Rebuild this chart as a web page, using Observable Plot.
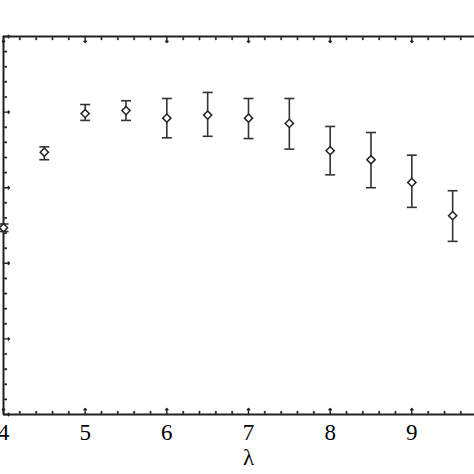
<!DOCTYPE html>
<html>
<head>
<meta charset="utf-8">
<script src="https://cdn.jsdelivr.net/npm/d3@7"></script>
<script src="https://cdn.jsdelivr.net/npm/@observablehq/plot@0.6"></script>
<style>
  html, body { margin: 0; padding: 0; background: #fff; }
  #wrap { width: 474px; height: 474px; overflow: hidden; }
  #wrap svg text { font-family: 'Liberation Serif', 'Times New Roman', serif; }
</style>
</head>
<body>
<div id="wrap"></div>
<script>
// λ values
const lambda = [4, 4.5, 5, 5.5, 6, 6.5, 7, 7.5, 8, 8.5, 9, 9.5];
// mean values (arbitrary units, y axis unlabeled in the crop)
const value = [2.47, 3.47, 3.98, 4.02, 3.92, 3.96, 3.92, 3.85, 3.49, 3.37, 3.07, 2.63];
// error bar bounds
const low  = [2.42, 3.37, 3.89, 3.89, 3.66, 3.68, 3.65, 3.51, 3.17, 3.00, 2.74, 2.29];
const high = [2.52, 3.54, 4.10, 4.15, 4.18, 4.26, 4.18, 4.18, 3.81, 3.73, 3.43, 2.96];

const xLabels = [4, 5, 6, 7, 8, 9];
const xMajor = [4, 5, 6, 7, 8, 9, 10];
const xMinor = d3.range(40, 101, 2).map(v => v / 10).filter(v => !xMajor.includes(v));
const yMajor = [0, 1, 2, 3, 4, 5];
const yMinor = d3.range(0, 51, 2).map(v => v / 10).filter(v => !yMajor.includes(v));

const data = lambda.map((x, i) => ({x, y: value[i], lo: low[i], hi: high[i]}));

const cap = {
  draw(context, size) {
    const r = Math.sqrt(size / Math.PI);
    context.moveTo(-r, 0);
    context.lineTo(r, 0);
  }
};

const ink = "#222";
const serif = "'Liberation Serif', 'Times New Roman', serif";

const chart = Plot.plot({
  width: 474,
  height: 474,
  marginLeft: 3,
  marginRight: -19,
  marginTop: 36,
  marginBottom: 60,
  style: {fontFamily: serif, background: "#fff", overflow: "visible"},
  x: {domain: [4, 10], label: null},
  y: {domain: [0, 5], label: null, axis: null},
  marks: [
    // frame (left, top, bottom)
    Plot.ruleX([4], {stroke: ink, strokeWidth: 2}),
    Plot.ruleY([0, 5], {stroke: ink, strokeWidth: 2}),
    // x ticks, inward, bottom & top
    Plot.vector(xMajor, {x: d => d, frameAnchor: "bottom", length: 6, anchor: "start", stroke: ink, strokeWidth: 1.4}),
    Plot.vector(xMinor, {x: d => d, frameAnchor: "bottom", length: 3, anchor: "start", stroke: ink, strokeWidth: 1.2}),
    Plot.vector(xMajor, {x: d => d, frameAnchor: "top", length: 6, rotate: 180, anchor: "start", stroke: ink, strokeWidth: 1.4}),
    Plot.vector(xMinor, {x: d => d, frameAnchor: "top", length: 3, rotate: 180, anchor: "start", stroke: ink, strokeWidth: 1.2}),
    // y ticks, inward, left
    Plot.vector(yMajor, {y: d => d, frameAnchor: "left", length: 6, rotate: 90, anchor: "start", stroke: ink, strokeWidth: 1.4}),
    Plot.vector(yMinor, {y: d => d, frameAnchor: "left", length: 3, rotate: 90, anchor: "start", stroke: ink, strokeWidth: 1.2}),
    // x tick labels and label
    Plot.axisX({
      ticks: xLabels, tickSize: 0, tickPadding: 9, fontSize: 23, fontFamily: serif,
      tickFormat: d => String(d), label: "λ", labelAnchor: "center", labelArrow: "none", labelOffset: 50
    }),
    // error bars
    Plot.ruleX(data, {x: "x", y1: "lo", y2: "hi", stroke: "#333", strokeWidth: 1.6}),
    Plot.dot(data, {x: "x", y: "lo", symbol: cap, r: 5, stroke: "#333", strokeWidth: 1.6}),
    Plot.dot(data, {x: "x", y: "hi", symbol: cap, r: 5, stroke: "#333", strokeWidth: 1.6}),
    // diamond markers
    Plot.dot(data, {x: "x", y: "y", symbol: "diamond2", r: 3.7, fill: "white", stroke: "#222", strokeWidth: 1.5})
  ]
});

document.getElementById("wrap").appendChild(chart);
</script>
</body>
</html>
